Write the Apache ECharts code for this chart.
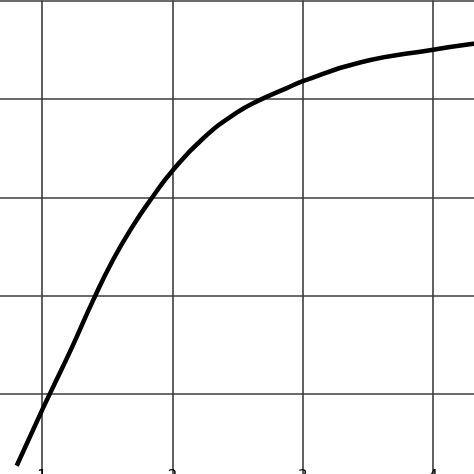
<!DOCTYPE html>
<html>
<head>
<meta charset="utf-8">
<script src="https://cdn.jsdelivr.net/npm/echarts@6/dist/echarts.min.js"></script>
<style>
html, body { margin: 0; padding: 0; background: #fff; }
#chart { width: 474px; height: 474px; }
</style>
</head>
<body>
<div id="chart"></div>
<script>
// curve (x, y)
var xs = [0.806, 1.00, 1.061, 1.228, 1.391, 1.547, 1.700, 1.841, 2.00, 2.237, 2.493, 2.672, 2.877, 3.00, 3.439, 4.00, 4.313, 4.51];
var ys = [0.272, 0.835, 1.005, 1.47, 1.95, 2.37, 2.715, 2.99, 3.27, 3.60, 3.86, 3.99, 4.11, 4.18, 4.37, 4.50, 4.56, 4.59];
var xTicks = [0, 1, 2, 3, 4, 5];

var pts = [];
for (var i = 0; i < xs.length; i++) pts.push([xs[i], ys[i]]);

var chart = echarts.init(document.getElementById("chart"));
chart.setOption({
	animation: false,
	grid: {left: -88.4, right: -89.6, top: 0.5, bottom: -18.5, containLabel: false, outerBoundsMode: "none"},
	xAxis: {
		type: "value", min: xTicks[0], max: xTicks[xTicks.length - 1], interval: 1,
		axisLine: {show: false}, axisTick: {show: false},
		axisLabel: {margin: -23, fontSize: 15, color: "#000", fontFamily: "DejaVu Sans"},
		splitLine: {show: true, lineStyle: {color: "#3a3a3a", width: 1.6}}
	},
	yAxis: {
		type: "value", min: 0, max: 5, interval: 1,
		axisLine: {show: false}, axisTick: {show: false}, axisLabel: {show: false},
		splitLine: {show: true, lineStyle: {color: "#3a3a3a", width: 1.6}}
	},
	series: [{
		type: "line", data: pts, smooth: 0.5, showSymbol: false,
		lineStyle: {color: "#000", width: 4.5}
	}]
});
</script>
</body>
</html>
